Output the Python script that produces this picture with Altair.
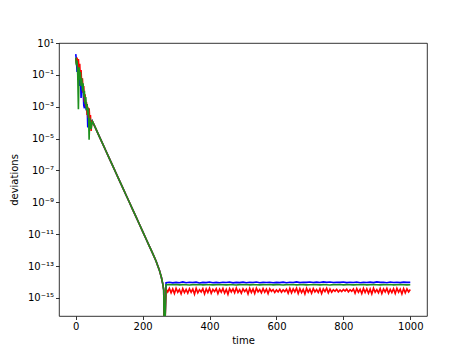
import altair as alt
import pandas as pd

# ---- data ----
early_t = [0, 2, 4, 6, 8, 10, 12, 14, 16, 18, 20, 22, 24, 26, 28, 30, 32, 34, 36, 38, 40, 42, 44, 46, 48]
blue_early = [2.0, 0.9, 0.15, 0.6, 0.08, 0.3, 0.02, 0.1, 3.5e-3, 0.04, 8e-3, 0.015, 1.2e-3, 8e-4,
              3e-3, 1e-3, 6e-4, 1.5e-3, 5e-5, 4e-4, 1.2e-4, 2e-4, 6e-5, 1.5e-4, 8e-5]
red_early = [1.0, 0.5, 1.2, 0.3, 1.0, 0.2, 0.5, 0.05, 0.2, 0.02, 0.06, 0.008, 0.02, 2e-3,
             6e-3, 1e-3, 2e-3, 3e-4, 1e-3, 2e-4, 8e-4, 1.5e-4, 3e-4, 3e-5, 1.2e-4]
green_early = [1.2, 0.4, 0.8, 0.1, 7e-4, 0.3, 0.05, 0.15, 0.02, 0.06, 0.01, 0.03, 4e-3, 0.01,
               1.5e-3, 4e-3, 6e-4, 1.5e-3, 3e-4, 8e-4, 8.5e-6, 2e-4, 1e-4, 4e-5, 8e-5]

decline_t = [50, 60, 70, 80, 90, 100, 110, 120, 130, 140, 150, 160, 170, 180, 190, 200,
             210, 220, 230, 240, 250, 256, 260, 263, 265]
decline_vals = [1.2e-4, 4.2e-5, 1.45e-5, 5e-6, 1.74e-6, 6e-7, 2.1e-7, 7.2e-8, 2.5e-8, 8.7e-9,
                3e-9, 1.05e-9, 3.6e-10, 1.26e-10, 4.4e-11, 1.5e-11, 5.2e-12, 1.8e-12, 6.3e-13,
                2.1e-13, 5.6e-14, 2e-14, 8e-15, 3.2e-15, 1e-18]

unit = 1e-15
red_plateau_t = list(range(270, 1001, 5))
red_plateau = [
    3.6, 2.4, 4.0, 2.1, 3.7, 1.9, 4.1, 2.3, 3.4, 1.8, 3.9, 2.2, 3.5, 2.0, 3.8,
    2.3, 3.6, 1.7, 4.0, 2.1, 3.3, 2.4, 3.9, 1.8, 3.7, 2.2, 4.1, 2.0, 3.5, 2.5,
    3.8, 1.9, 3.6, 2.3, 4.0, 2.0, 3.4, 1.7, 3.9, 2.4, 3.7, 2.1, 4.2, 2.2, 3.3,
    2.0, 3.8, 2.5, 3.5, 1.8, 4.0, 2.2, 3.7, 1.9, 4.1, 2.4, 3.4, 2.1, 3.9, 2.3,
    3.6, 1.9, 3.8, 2.6, 3.4, 2.2, 3.2, 2.4, 3.5, 2.3, 3.3, 2.5, 3.6, 2.0, 4.0,
    2.1, 3.7, 2.4, 4.1, 1.9, 3.8, 2.2, 3.5, 1.8, 4.0, 2.3, 3.6, 2.0, 3.9, 2.4,
    3.4, 2.2, 3.8, 1.9, 3.7, 2.5, 4.1, 2.1, 3.6, 2.3, 3.3, 2.6, 3.5, 2.4, 3.2,
    2.5, 3.4, 2.7, 3.6, 2.4, 3.3, 2.6, 3.7, 2.0, 3.9, 2.3, 3.5, 1.9, 4.0, 2.2,
    3.8, 2.0, 3.6, 1.8, 4.1, 2.3, 3.4, 2.1, 3.9, 1.9, 3.7, 2.4, 4.0, 2.0, 3.5,
    2.2, 3.8, 1.9, 4.1, 2.3, 3.6, 1.8, 3.9, 2.1, 3.7, 2.4, 3.4]

plateau_t = list(range(270, 1001, 10))
blue_plateau = [
    9.2, 9.8, 8.9, 9.6, 9.1, 10.2, 9.0, 9.7, 9.3, 9.9, 8.8, 9.5, 9.2, 10.0, 9.1,
    9.6, 9.0, 9.8, 9.3, 10.1, 8.9, 9.5, 9.2, 9.9, 9.0, 9.7, 9.4, 10.0, 9.1, 9.6,
    9.3, 9.8, 9.0, 9.5, 9.2, 9.9, 9.1, 9.7, 9.4, 10.3, 9.2, 9.8, 9.5, 10.1, 9.3,
    9.9, 9.4, 10.2, 9.6, 10.0, 9.3, 9.8, 9.5, 10.1, 9.2, 9.7, 9.4, 10.0, 9.1, 9.6,
    9.3, 9.9, 9.2, 10.2, 9.5, 9.8, 9.1, 10.0, 9.4, 9.7, 9.2, 9.9, 9.5, 9.6]
green_plateau = [
    6.7, 6.9, 6.8, 7.0, 6.7, 6.9, 6.8, 6.6, 6.9, 6.8, 7.0, 6.7, 6.8, 6.9, 6.7,
    6.8, 7.0, 6.8, 6.7, 6.9, 6.8, 6.6, 6.9, 6.8, 7.0, 6.7, 6.9, 6.8, 6.7, 6.9,
    6.8, 7.0, 6.7, 6.9, 6.8, 6.6, 6.9, 6.8, 7.0, 6.7, 6.8, 6.9, 6.7, 6.8, 7.0,
    6.8, 6.7, 6.9, 6.8, 6.6, 6.9, 6.8, 7.0, 6.7, 6.9, 6.8, 6.7, 6.9, 6.8, 7.0,
    6.7, 6.8, 6.9, 6.8, 6.7, 6.9, 6.8, 7.0, 6.7, 6.8, 6.9, 6.8, 6.7, 6.8]

x_ticks = [0, 200, 400, 600, 800, 1000]
y_ticks = [1e1, 1e-1, 1e-3, 1e-5, 1e-7, 1e-9, 1e-11, 1e-13, 1e-15]
y_labels = ["10¹", "10⁻¹", "10⁻³", "10⁻⁵", "10⁻⁷", "10⁻⁹", "10⁻¹¹", "10⁻¹³", "10⁻¹⁵"]


def series_frame(early, plateau_times, plateau_vals):
    t = early_t + decline_t + plateau_times
    v = early + decline_vals + [p * unit for p in plateau_vals]
    return pd.DataFrame({"t": t, "v": v})


df_blue = series_frame(blue_early, plateau_t, blue_plateau)
df_red = series_frame(red_early, red_plateau_t, red_plateau)
df_green = series_frame(green_early, plateau_t, green_plateau)

label_expr = "[" + ",".join("'" + s + "'" for s in y_labels) + "][round((1 - log(datum.value)/LN10)/2)]"

x_enc = alt.X("t:Q", scale=alt.Scale(domain=[-50, 1050], nice=False, zero=False),
              axis=alt.Axis(values=x_ticks, title="time", format="d"))
y_enc = alt.Y("v:Q", scale=alt.Scale(type="log", domain=[10 ** -16.13, 10], nice=False),
              axis=alt.Axis(values=y_ticks, labelExpr=label_expr, title="deviations"))


def line(df, color):
    return alt.Chart(df).mark_line(color=color, strokeWidth=1.6, clip=True).encode(
        x=x_enc, y=y_enc, order="t:Q")


chart = alt.layer(
    line(df_blue, "#0000ff"),
    line(df_red, "#ff0000"),
    line(df_green, "#1e901e"),
).properties(
    width=368, height=273,
    background="white",
    autosize=alt.AutoSizeParams(type="none"),
    padding={"left": 59, "top": 43, "right": 47, "bottom": 39},
).configure_view(
    stroke="black", strokeWidth=0.8
).configure_axis(
    grid=False, domain=False,
    labelFont="DejaVu Sans", labelFontSize=10, labelColor="black",
    titleFont="DejaVu Sans", titleFontSize=10, titleFontWeight="normal", titleColor="black",
    tickColor="black", tickSize=3.5, tickWidth=0.8, labelPadding=2,
).configure_axisX(
    titlePadding=4
).configure_axisY(
    titlePadding=8
)

chart.save("out.html", embed_options={"renderer": "svg", "actions": False})
